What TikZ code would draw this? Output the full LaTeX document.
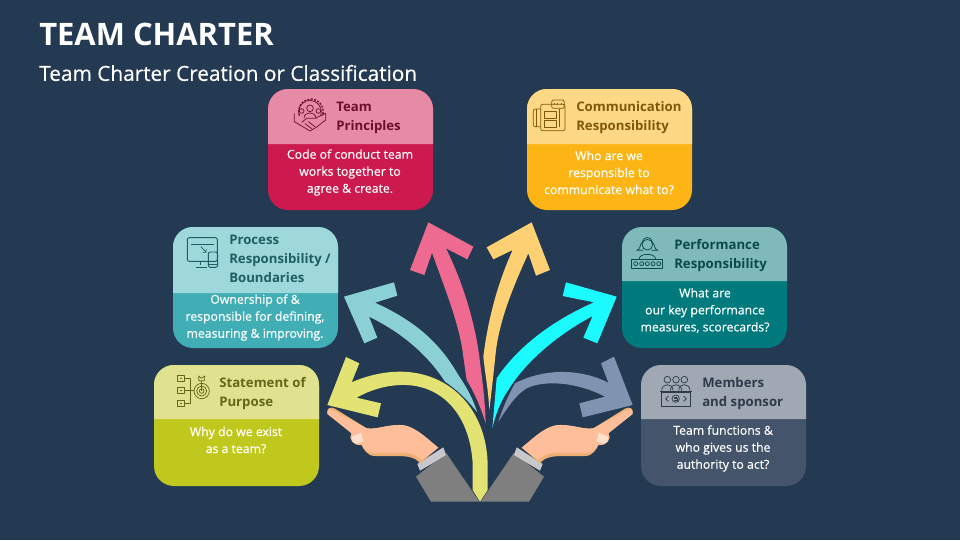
\documentclass[tikz,border=0pt]{standalone}
\usepackage{fontspec}
\setmainfont{Open Sans}
\newfontfamily\semifont{Open Sans}[FakeBold=0.4]
\definecolor{colorbg}{HTML}{243A53}
\definecolor{colorpinkl}{HTML}{E58BA5}
\definecolor{colorpinkd}{HTML}{CC1A4E}
\definecolor{colorpinkt}{HTML}{6B0F2E}
\definecolor{colorpinka}{HTML}{EE6A90}
\definecolor{colorgoldl}{HTML}{FFD885}
\definecolor{colorgoldd}{HTML}{FDB515}
\definecolor{colorgoldt}{HTML}{7F5A05}
\definecolor{colorgolda}{HTML}{FCD073}
\definecolor{colorprocl}{HTML}{9ED8DB}
\definecolor{colorprocd}{HTML}{41AEB6}
\definecolor{colorproct}{HTML}{1E5F63}
\definecolor{colorproca}{HTML}{8BD0D5}
\definecolor{colorperfl}{HTML}{80B9BA}
\definecolor{colorperfd}{HTML}{007A7C}
\definecolor{colorperft}{HTML}{0A4A4C}
\definecolor{colorperfa}{HTML}{1AFAFF}
\definecolor{colorlimel}{HTML}{E0E28F}
\definecolor{colorlimed}{HTML}{C0C81E}
\definecolor{colorlimet}{HTML}{63681A}
\definecolor{colorlimea}{HTML}{E2E373}
\definecolor{colormembl}{HTML}{A0A8B4}
\definecolor{colormembd}{HTML}{44546A}
\definecolor{colormembt}{HTML}{2F3A4A}
\definecolor{colormemba}{HTML}{8093B0}
\definecolor{colorskin}{HTML}{FFBE9A}
\definecolor{colorshade}{HTML}{EFAF72}
\definecolor{colornail}{HTML}{FFE0CC}
\definecolor{colorsleeve}{HTML}{7F7F7F}
\definecolor{colorcuff}{HTML}{C8C8CC}
\tikzset{
  headtxt/.style={anchor=west,align=left,inner sep=0pt,font=\fontsize{9.9}{14.25}\selectfont\bfseries},
  bodytxt/.style={anchor=center,align=center,inner sep=0pt,text=white,font=\fontsize{9.2}{12.75}\semifont},
  iconline/.style={line width=0.55pt,line join=round,fill=none}
}
% zoomed local frame: three units to one pixel
\tikzset{
  zoomed/.style 2 args={shift={(#1,#2)},x=0.25pt,y=-0.25pt}
}
\newcommand\cardbox[5]{
  \fill[#5,rounded corners=15pt] (#1,#2) rectangle (#1+165,#2+121);
  \fill[#4] (#1,#3) [rounded corners=15pt] -- (#1,#2) -- (#1+165,#2) [sharp corners] -- (#1+165,#3) -- cycle;
}
\newcommand\drawhand{
  \fill[colorsleeve] (288,800) -- (378,728) -- (478,875) -- (333,875) -- cycle;
  \fill[colorcuff] (292,762) -- (370,712) -- (378,735) -- (300,782) -- cycle;
  \fill[colorshade] (22,610) .. controls (18,596) and (32,588) .. (45,596) -- (140,655)
    .. controls (175,660) and (205,640) .. (255,648) .. controls (295,658) and (325,690) .. (355,713)
    -- (300,760) .. controls (285,740) and (260,738) .. (225,738) -- (165,738)
    .. controls (140,738) and (130,715) .. (125,705) .. controls (100,706) and (85,690) .. (95,670) -- cycle;
  \fill[colorskin] (22,612) .. controls (20,602) and (30,596) .. (40,601) -- (140,655)
    .. controls (175,660) and (205,640) .. (255,646) .. controls (295,656) and (325,690) .. (355,713)
    -- (305,750) .. controls (285,730) and (260,726) .. (225,729) -- (165,729)
    .. controls (140,729) and (130,715) .. (125,705) .. controls (100,706) and (85,690) .. (95,670) -- cycle;
  \fill[colornail] (96,680) -- (124,668) -- (130,695) -- (106,701) .. controls (98,697) and (95,690) .. (96,680) -- cycle;
}
\begin{document}
\begin{tikzpicture}[x=0.75pt,y=-0.75pt]
\useasboundingbox (0,0) rectangle (960,540);
\fill[colorbg] (0,0) rectangle (960,540);

\node[anchor=west,inner sep=0pt,text=white,font=\fontsize{23.2}{28}\selectfont\bfseries] (title) at (39,34) {TEAM CHARTER};
\node[anchor=west,inner sep=0pt,text=white,font=\fontsize{15.6}{18}\semifont] (subtitle) at (39,73) {Team Charter Creation or Classification};

% cards
\cardbox{268}{89}{144}{colorpinkl}{colorpinkd}
\cardbox{527}{89}{144}{colorgoldl}{colorgoldd}
\cardbox{173}{227}{293}{colorprocl}{colorprocd}
\cardbox{622}{227}{281}{colorperfl}{colorperfd}
\cardbox{154}{365}{419}{colorlimel}{colorlimed}
\cardbox{641}{365}{419}{colormembl}{colormembd}

\node[headtxt,text=colorpinkt] (princhead) at (336,118) {Team\\Principles};
\node[bodytxt] (princbody) at (350,172.5) {Code of conduct team\\works together to\\agree \& create.};
\node[headtxt,text=colorgoldt] (commhead) at (576,118) {Communication\\Responsibility};
\node[bodytxt] (commbody) at (609,172.5) {Who are we\\responsible to\\communicate what to?};
\node[headtxt,text=colorproct] (prochead) at (229,259) {Process\\Responsibility /\\Boundaries};
\node[bodytxt] (procbody) at (255,317.5) {Ownership of \&\\responsible for defining,\\measuring \& improving.};
\node[headtxt,text=colorperft] (perfhead) at (674,256) {Performance\\Responsibility};
\node[bodytxt] (perfbody) at (705,310.5) {What are\\our key performance\\measures, scorecards?};
\node[headtxt,text=colorlimet] (purphead) at (219,394) {Statement of\\Purpose};
\node[bodytxt] (purpbody) at (236,440) {Why do we exist\\as a team?};
\node[headtxt,text=colormembt] (membhead) at (702,394) {Members\\and sponsor};
\node[bodytxt] (membbody) at (723,448.5) {Team functions \&\\who gives us the\\authority to act?};

% hands
\begin{scope}[zoomed={320}{210}]
\drawhand
\end{scope}
\begin{scope}[shift={(640,210)},x=-0.25pt,y=-0.25pt]
\drawhand
\end{scope}

% arrows
\begin{scope}[zoomed={320}{210}]
\fill[colorproca] (472,607) .. controls (455,560) and (445,540) .. (415,495)
  .. controls (360,400) and (290,335) .. (165,278) -- (232,257) -- (222,217) -- (72,260) -- (133,400) -- (172,383) -- (147,320)
  .. controls (240,365) and (320,430) .. (375,515) .. controls (420,545) and (450,580) .. (472,607) -- cycle;
\fill[colorpinka] (497,640) .. controls (495,560) and (485,500) .. (478,440)
  .. controls (465,340) and (430,220) .. (378,115) -- (442,148) -- (460,110) -- (325,37) -- (270,180) -- (313,195) -- (336,128)
  .. controls (380,250) and (420,350) .. (430,440) -- (440,510) .. controls (465,550) and (485,600) .. (497,640) -- cycle;
\fill[colorgolda] (508,600) .. controls (505,540) and (495,490) .. (490,440)
  .. controls (505,320) and (535,215) .. (578,120) -- (520,148) -- (500,112) -- (635,37) -- (690,180) -- (648,197) -- (625,130)
  .. controls (575,240) and (540,330) .. (528,420) .. controls (522,480) and (515,540) .. (508,600) -- cycle;
\fill[colorperfa] (517,655) -- (530,505) .. controls (590,415) and (690,335) .. (822,277) -- (728,258) -- (738,217) -- (890,260) -- (832,400) -- (790,383) -- (818,318)
  .. controls (720,370) and (620,450) .. (565,540) .. controls (540,575) and (525,620) .. (517,655) -- cycle;
\fill[colormemba] (535,635) .. controls (550,590) and (565,555) .. (585,520)
  .. controls (660,480) and (770,470) .. (865,518) -- (843,460) -- (882,440) -- (938,585) -- (788,622) -- (778,580) -- (855,560)
  .. controls (770,515) and (670,510) .. (620,535) .. controls (585,555) and (555,605) .. (535,635) -- cycle;
\fill[colorlimea] (480,875) -- (458,840) -- (458,760) .. controls (450,620) and (370,520) .. (240,525)
  .. controls (195,527) and (150,540) .. (110,563) -- (183,580) -- (173,622) -- (22,585) -- (78,441) -- (118,460) -- (95,517)
  .. controls (145,495) and (195,485) .. (240,485) .. controls (390,485) and (503,600) .. (503,770) -- (503,840) -- cycle;
\end{scope}

% icon: gear, people, handshake
\begin{scope}[zoomed={260}{85},draw=colorpinkt]
\draw[iconline] (118,92) arc (160:380:34);
\draw[iconline,dash pattern=on 1.5pt off 1pt,line width=1pt] (118,92) arc (160:380:37);
\draw[iconline] (150,70) circle (10);
\draw[iconline] (125,78) circle (7);
\draw[iconline] (175,78) circle (7);
\draw[iconline] (132,100) .. controls (132,78) and (168,78) .. (168,100);
\draw[iconline] (103,85) -- (103,110) -- (130,126) -- (150,138) -- (170,126) -- (197,105) -- (197,85) -- (165,100) -- (140,100) -- (125,112);
\draw[iconline] (135,116) -- (155,131);
\draw[iconline] (145,110) -- (165,125);
\end{scope}

% icon: pages and speech bubble
\begin{scope}[zoomed={520}{85},draw=colorgoldt]
\draw[iconline,rounded corners=1.5pt] (62,72) -- (40,72) -- (40,125) -- (62,125);
\draw[iconline] (50,72) -- (50,125);
\draw[iconline,rounded corners=1.5pt] (62,58) rectangle (135,137);
\draw[iconline] (72,80) rectangle (108,100);
\draw[iconline] (72,107) rectangle (108,127);
\draw[iconline] (118,72) -- (118,127);
\fill[colorgoldl,draw=colorgoldt,iconline,rounded corners=1.5pt] (95,45) rectangle (133,70);
\draw[iconline,dotted,line width=1pt] (102,57) -- (126,57);
\end{scope}

% icon: monitor and phone
\begin{scope}[zoomed={165}{222},draw=colorproct]
\draw[iconline,line width=0.7pt,rounded corners=1.5pt] (67,47) rectangle (157,118);
\draw[iconline] (77,66) -- (147,66);
\draw[iconline,->] (108,74) -- (124,92);
\draw[iconline] (105,118) -- (105,130) (92,137) -- (125,137);
\fill[colorprocl,draw=colorproct,iconline,line width=0.7pt,rounded corners=1.5pt] (130,90) rectangle (158,136);
\draw[iconline] (130,126) -- (158,126);
\end{scope}

% icon: person over rating
\begin{scope}[zoomed={615}{222},draw=colorperft]
\draw[iconline] (97,68) circle (16);
\draw[iconline] (82,60) .. controls (72,70) and (78,82) .. (65,85) -- (85,85);
\draw[iconline] (112,60) .. controls (122,70) and (116,82) .. (129,85) -- (109,85);
\draw[iconline] (82,60) .. controls (85,42) and (109,42) .. (112,60);
\draw[iconline] (72,112) .. controls (72,92) and (122,92) .. (122,112);
\draw[iconline] (50,112) rectangle (143,138);
\foreach \i in {62,80,97,114,131}
  \draw[iconline] (\i,125) circle (6);
\end{scope}

% icon: boxes and target
\begin{scope}[zoomed={150}{360},draw=colorlimet]
\foreach \i in {47,83,120}{
  \draw[iconline] (83,\i) rectangle (104,\i+18);
  \draw[iconline] (89,\i+9) -- (97,\i+9);
}
\draw[iconline] (104,56) -- (120,56) -- (120,129) -- (104,129) (104,92) -- (133,92);
\draw[iconline] (155,93) circle (23);
\draw[iconline] (155,93) circle (15);
\draw[iconline] (155,93) circle (7);
\draw[iconline] (155,93) -- (155,62);
\draw[iconline] (146,48) -- (146,62) -- (164,62) -- (164,48) -- (155,55) -- cycle;
\end{scope}

% icon: three people behind a desk
\begin{scope}[zoomed={635}{360},draw=colormembt]
\foreach \i in {97,123,148}{
  \draw[iconline] (\i,59) circle (10);
  \draw[iconline] (\i-17,92) .. controls (\i-17,68) and (\i+17,68) .. (\i+17,92);
}
\draw[iconline,line width=0.8pt] (75,95) -- (172,95);
\draw[iconline,line width=0.7pt] (80,96) rectangle (167,139);
\draw[iconline] (122,116) circle (11);
\draw[iconline] (126,112) -- (118,112) -- (118,116) -- (126,116) -- (126,120) -- (118,120);
\draw[iconline] (100,108) -- (92,116) -- (100,124) (146,108) -- (154,116) -- (146,124);
\end{scope}
\end{tikzpicture}
\end{document}
